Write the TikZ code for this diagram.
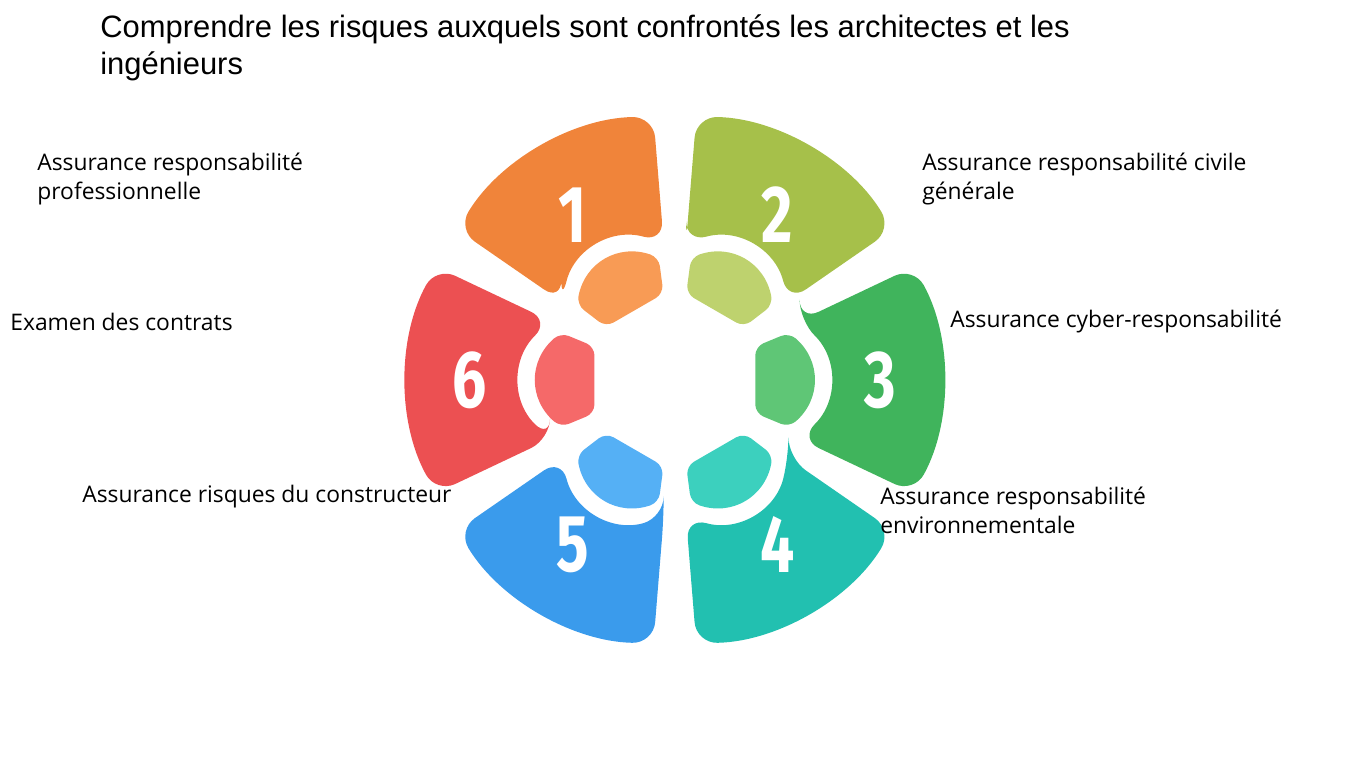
\documentclass[tikz,border=0pt]{standalone}
\usepackage{fontspec}
\setmainfont{Open Sans}
\newfontfamily\titlefont{Liberation Sans}
\newfontfamily\numfont{Fira Sans}
\usetikzlibrary{positioning}
\definecolor{orangeA}{RGB}{240,132,58}
\definecolor{orangeB}{RGB}{248,155,85}
\definecolor{oliveA}{RGB}{166,192,74}
\definecolor{oliveB}{RGB}{190,210,110}
\definecolor{greenA}{RGB}{64,180,92}
\definecolor{greenB}{RGB}{95,198,118}
\definecolor{tealA}{RGB}{34,192,176}
\definecolor{tealB}{RGB}{60,208,190}
\definecolor{blueA}{RGB}{58,155,236}
\definecolor{blueB}{RGB}{85,176,245}
\definecolor{redA}{RGB}{236,80,82}
\definecolor{redB}{RGB}{245,105,105}
\tikzset{
  label/.style={anchor=west, align=left, inner sep=0pt, font=\fontsize{13}{16.5}\selectfont, text=black},
  digit/.style={text=white, font=\numfont\fontsize{46}{46}\selectfont\bfseries, xscale=0.75},
  bigpetal/.style={rounded corners=12pt},
  smallpetal/.style={rounded corners=5pt}
}
\begin{document}
\begin{tikzpicture}[x=0.02cm, y=-0.02cm]
  \path[use as bounding box] (0,0) rectangle (1350,759);

  % title
  \node[anchor=north west, align=left, inner sep=0pt, font=\titlefont\fontsize{17.6}{21}\selectfont] (title) at (100,14)
    {Comprendre les risques auxquels sont confrontés les architectes et les\\ingénieurs};

  % petals
  \begin{scope}[shift={(13.5cm,-7.6cm)}, x=0.02cm, y=0.0186cm]
    \foreach \ang/\cola/\colb/\num in {120/orangeA/orangeB/1, 60/oliveA/oliveB/2, 0/greenA/greenB/3,
                                        -60/tealA/tealB/4, -120/blueA/blueB/5, 180/redA/redB/6} {
      \begin{scope}[rotate=\ang]
        \fill[\cola, bigpetal] (27:140) -- (27:268) arc[start angle=27, end angle=-27, radius=268]
          -- (-27:140) .. controls (-8:165) and (8:165) .. (27:140) -- cycle;
        \fill[\colb, smallpetal] (24:88) -- (24:125) .. controls (8:148) and (-8:148) .. (-24:125)
          -- (-24:88) -- cycle;
      \end{scope}
      \node[digit] (n\num) at (\ang:205) {\num};
    }
  \end{scope}

  % labels
  \node[label] (l1) at (37,179) {Assurance responsabilité\\professionnelle};
  \node[label] (l2) at (922,179) {Assurance responsabilité civile\\générale};
  \node[label] (l3) at (950,322) {Assurance cyber-responsabilité};
  \node[label] (l4) at (880,510) {Assurance responsabilité\\environnementale};
  \node[label] (l5) at (82,497) {Assurance risques du constructeur};
  \node[label] (l6) at (10,322) {Examen des contrats};
\end{tikzpicture}
\end{document}
